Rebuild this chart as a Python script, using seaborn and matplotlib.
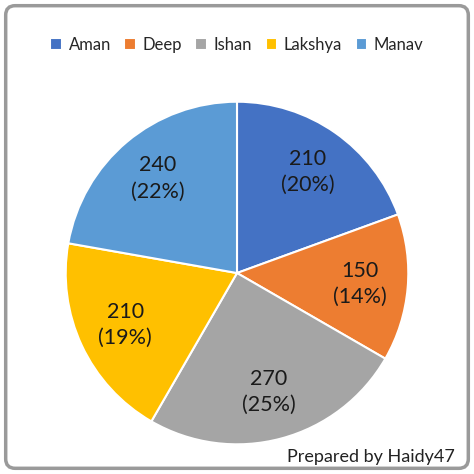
import matplotlib
matplotlib.use("Agg")
import matplotlib.pyplot as plt
import seaborn as sns
import numpy as np
from matplotlib.patches import FancyBboxPatch

names = ["Aman", "Deep", "Ishan", "Lakshya", "Manav"]
values = [210, 150, 270, 210, 240]
pct_labels = ["20%", "14%", "25%", "19%", "22%"]
colors = ["#4472C4", "#ED7D31", "#A5A5A5", "#FFC000", "#5B9BD5"]

sns.set_theme(style="white")
plt.rcParams['font.family'] = ['Lato', 'DejaVu Sans']

fig = plt.figure(figsize=(4.74, 4.74), dpi=100)
fig.patch.set_facecolor("white")
ax = fig.add_axes([0.135, 0.059, 0.73, 0.73])
labels = [f"{v}\n({p})" for v, p in zip(values, pct_labels)]
wedges, _ = ax.pie(values, colors=colors, startangle=90, counterclock=False,
                   wedgeprops=dict(edgecolor="white", linewidth=1.5))
total = sum(values)
cum = 0
for v, lab in zip(values, labels):
    mid = 90 - (cum + v / 2) / total * 360
    cum += v
    r = 0.72
    ax.text(r * np.cos(np.radians(mid)), r * np.sin(np.radians(mid)), lab,
            ha="center", va="center", fontsize=15.5, color="#1a1a1a", linespacing=1.4)
ax.set_xlim(-1.01, 1.01)
ax.set_ylim(-1.01, 1.01)
ax.set_aspect("equal")

fig.legend(wedges, names, loc="center", bbox_to_anchor=(0.5, 0.905), ncol=5,
           frameon=False, fontsize=12, handlelength=0.7, handleheight=0.7,
           columnspacing=0.8, handletextpad=0.4)
fig.text(0.96, 0.035, "Prepared by Haidy47", ha="right", va="center", fontsize=13, color="#222222")
frame = FancyBboxPatch((0.012, 0.012), 0.976, 0.976, boxstyle="round,pad=0,rounding_size=0.02",
                       transform=fig.transFigure, fill=False, edgecolor="#9a9a9a", linewidth=2.5)
fig.patches.append(frame)
fig.savefig("out.png", dpi=100)
